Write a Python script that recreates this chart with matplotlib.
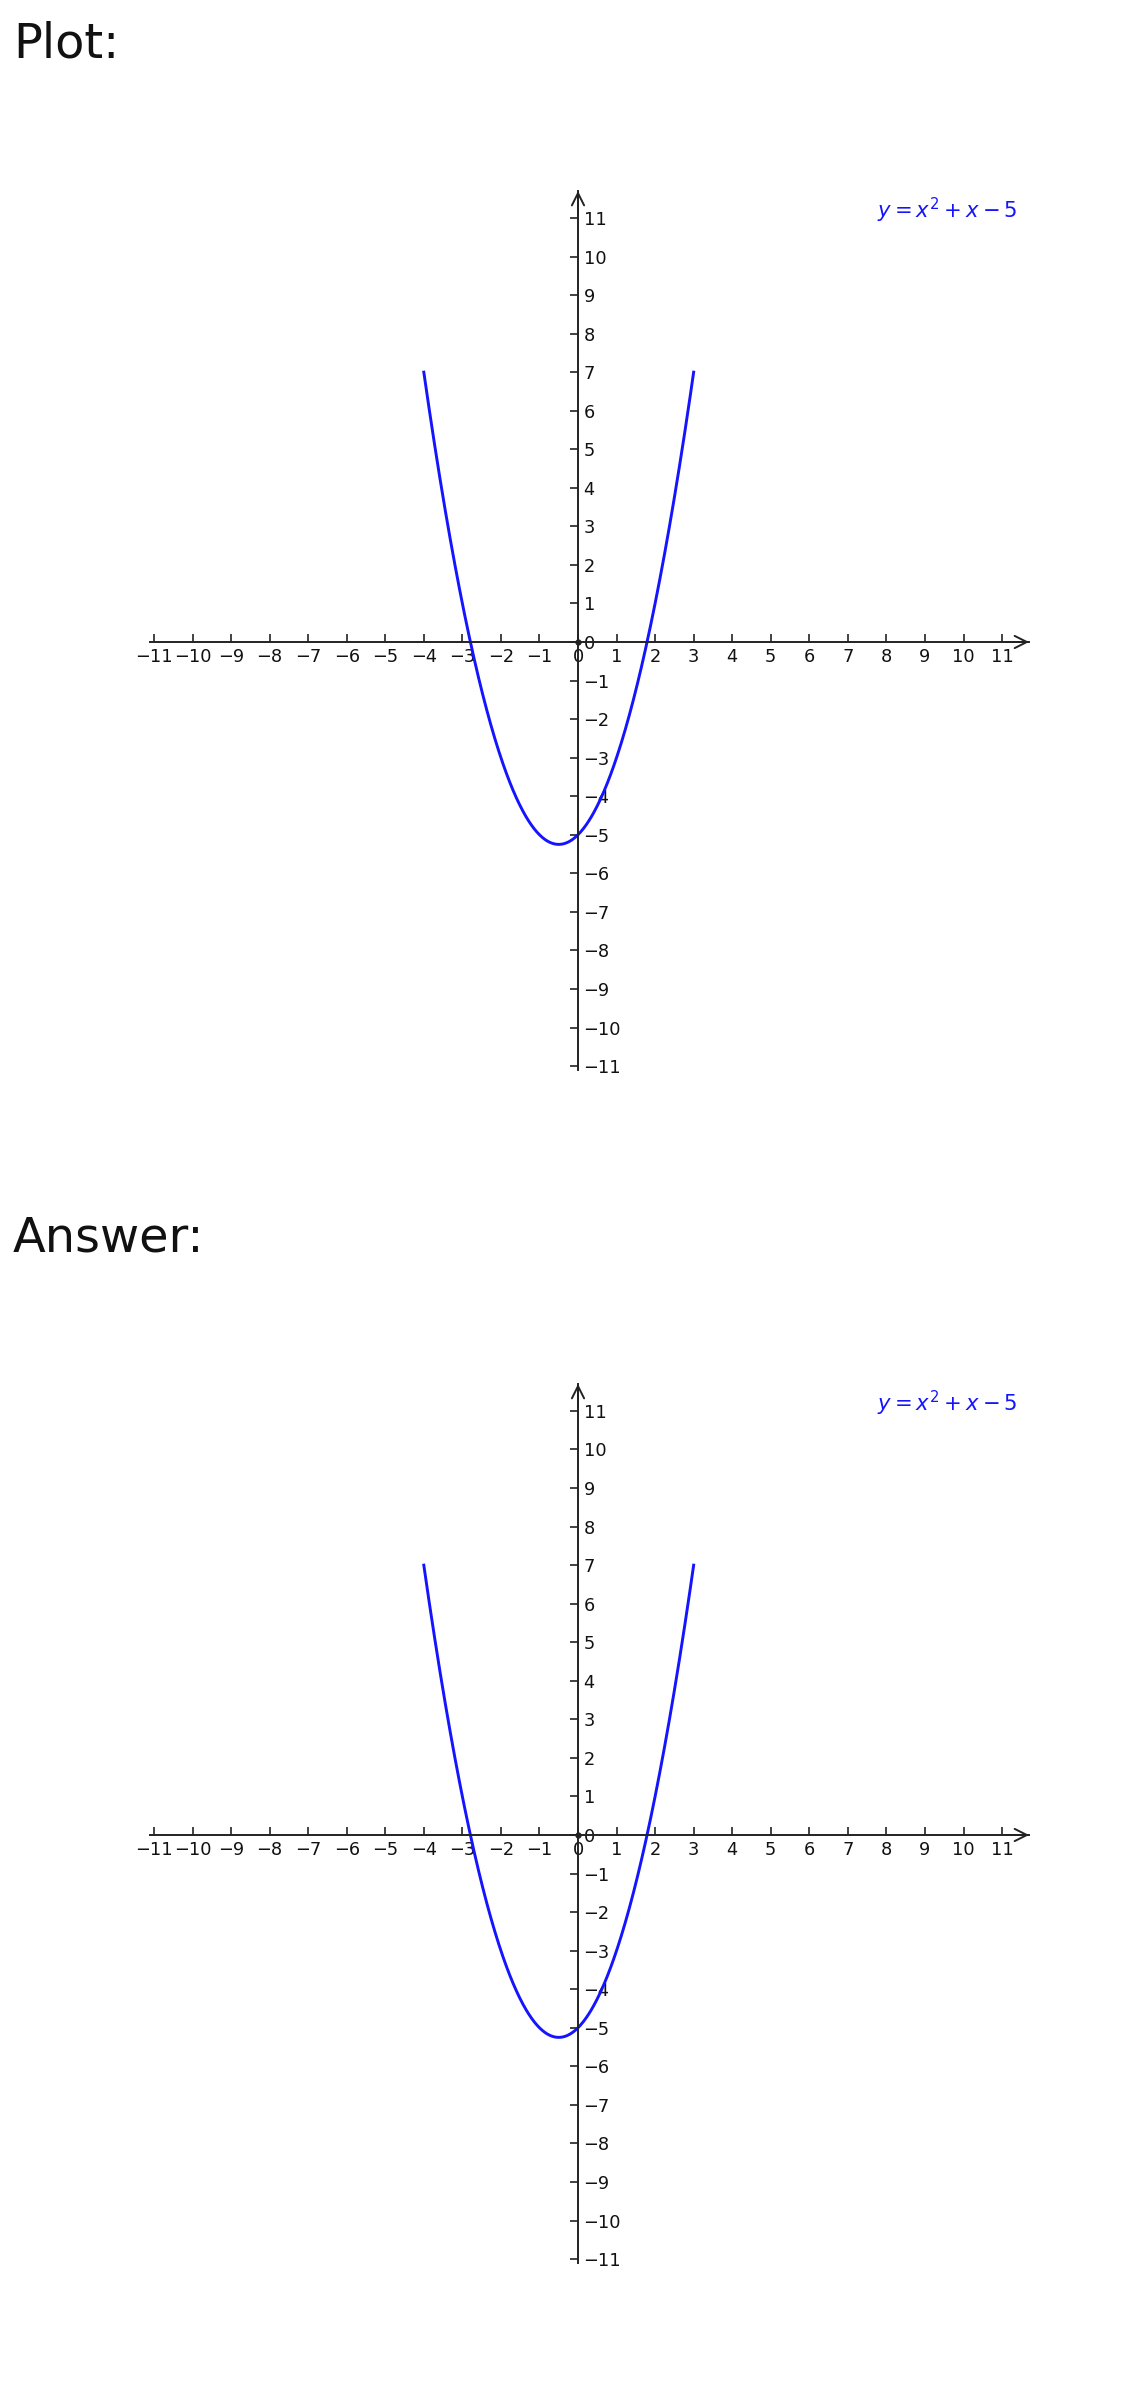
import numpy as np
import matplotlib
matplotlib.use("Agg")
import matplotlib.pyplot as plt

# curve shown in the picture: y = x^2 + x - 5, drawn for x in [-4, 3]
coeffs = [1, 1, -5]
x_start, x_end = -4, 3
curve_label = r"$y = x^2 + x - 5$"

tick_values = list(range(-11, 12))
headings = ["Plot:", "Answer:"]

W, H = 1125, 2388
fig = plt.figure(figsize=(W / 100, H / 100), dpi=100)

xlo, xhi = -11.1, 11.7
ylo, yhi = -11.1, 11.7
unit = 38.55                      # pixels per data unit
origin_x = 578                    # pixel column of the y axis
origin_y = [642, 1835]            # pixel rows of the x axis (top plot, bottom plot)
heading_base = [57, 1252]         # pixel rows of the heading baselines

x = np.linspace(x_start, x_end, 400)
y = np.polyval(coeffs, x)

for k in range(2):
    left = (origin_x + xlo * unit) / W
    width = (xhi - xlo) * unit / W
    bottom = (H - (origin_y[k] - ylo * unit)) / H
    height = (yhi - ylo) * unit / H
    ax = fig.add_axes([left, bottom, width, height])
    ax.set_xlim(xlo, xhi)
    ax.set_ylim(ylo, yhi)

    # axes through the origin
    ax.spines['top'].set_visible(False)
    ax.spines['left'].set_visible(False)
    ax.spines['bottom'].set_position(('data', 0))
    ax.spines['right'].set_position(('data', 0))
    for s in ['bottom', 'right']:
        ax.spines[s].set_linewidth(1.4)
        ax.spines[s].set_color('#222222')
    ax.yaxis.tick_right()

    ax.set_xticks(tick_values)
    ax.set_yticks(tick_values)
    ax.tick_params(axis='both', direction='in', length=6, width=1.2,
                   labelsize=12.8, colors='#222222', labelcolor='#111111')
    ax.tick_params(axis='x', pad=4)
    ax.tick_params(axis='y', pad=4)

    # arrow heads
    ax.annotate('', xy=(xhi, 0), xytext=(xhi - 0.6, 0),
                arrowprops=dict(arrowstyle='->', lw=1.4, color='#222222',
                                mutation_scale=22, shrinkA=0, shrinkB=0),
                annotation_clip=False)
    ax.annotate('', xy=(0, yhi), xytext=(0, yhi - 0.6),
                arrowprops=dict(arrowstyle='->', lw=1.4, color='#222222',
                                mutation_scale=22, shrinkA=0, shrinkB=0),
                annotation_clip=False)
    ax.plot([0], [0], 'o', color='#222222', ms=3.5)

    ax.plot(x, y, color='#1414ff', lw=2.1)
    ax.text(11.4, 11.2, curve_label, color='#1414ff', fontsize=15.2,
            ha='right', va='center')

    fig.text(13 / W, 1 - heading_base[k] / H, headings[k], fontsize=34.5,
             color='#111111', ha='left', va='baseline')

fig.savefig("out.png", dpi=100, facecolor='white')
